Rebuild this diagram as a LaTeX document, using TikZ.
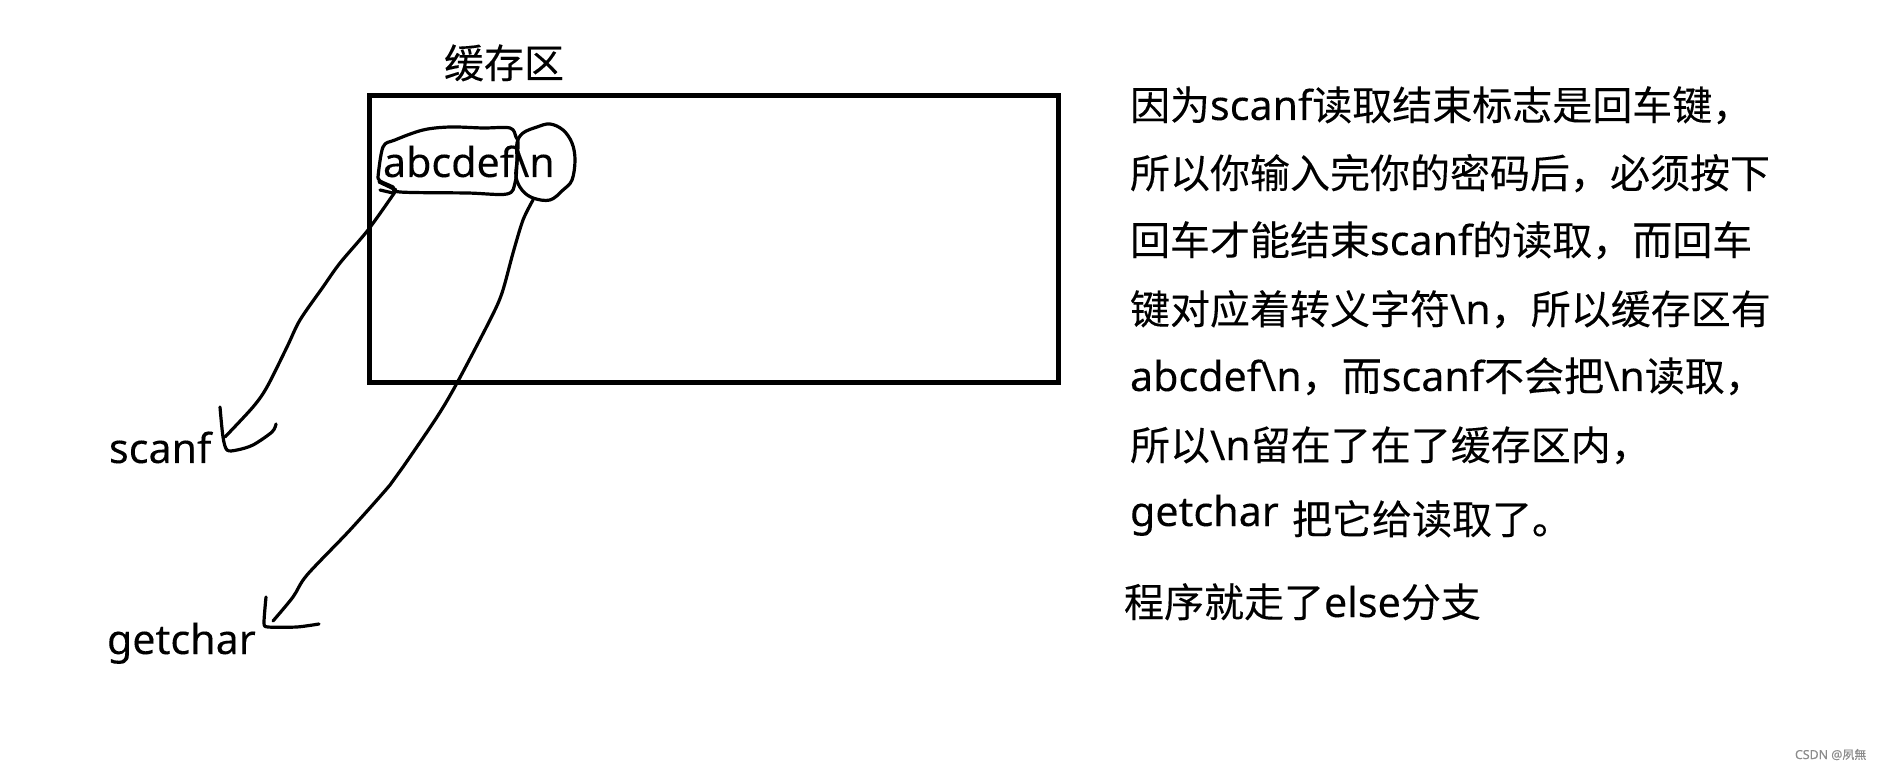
\documentclass[tikz,border=0pt]{standalone}
\usepackage{fontspec}
\setmainfont[Scale=1.03,FakeBold=0.12]{Noto Sans}
\newfontfamily\cjk[FakeBold=0.12]{Noto Sans CJK SC}
\newcommand{\zh}[1]{{\cjk #1}}
\tikzset{
  ink/.style={line width=1.6pt,line cap=round,line join=round,black},
  txt/.style={anchor=base west,inner sep=0pt,outer sep=0pt,font=\fontsize{20pt}{24pt}\selectfont},
  wmark/.style={anchor=base west,inner sep=0pt,outer sep=0pt,font=\fontsize{6pt}{7pt}\selectfont,text=black!45},
}
\begin{document}
\begin{tikzpicture}[x=0.5pt,y=-0.5pt]
\useasboundingbox (0,0) rectangle (1877,769);
\fill[white] (0,0) rectangle (1877,769);
\node[draw,line width=2.5pt,inner sep=0pt,outer sep=0pt,minimum width=344.5pt,minimum height=143.5pt,anchor=north west] (buffer) at (369.5,95.5) {};
\node[txt] (buftitle) at (444,78) {\zh{缓存区}};
\node[txt] (content) at (383,177) {abcdef\textbackslash n};
\node[txt] (scanf) at (109,463) {scanf};
\node[txt] (getchar) at (107,654) {getchar};

\node[txt] (l1) at (1130,120) {\zh{因为}scanf\zh{读取结束标志是回车键，}};
\node[txt] (l2) at (1130,188) {\zh{所以你输入完你的密码后，必须按下}};
\node[txt] (l3) at (1130,255) {\zh{回车才能结束}scanf\zh{的读取，而回车}};
\node[txt] (l4) at (1130,324) {\zh{键对应着转义字符}\textbackslash n\zh{，所以缓存区有}};
\node[txt] (l5) at (1130,391) {abcdef\textbackslash n\zh{，而}scanf\zh{不会把}\textbackslash n\zh{读取，}};
\node[txt] (l6) at (1130,460) {\zh{所以}\textbackslash n\zh{留在了在了缓存区内，}};
\node[txt] (l7a) at (1130,526) {getchar};
\node[txt] (l7b) at (1292,534) {\zh{把它给读取了。}};
\node[txt] (l8) at (1124,617) {\zh{程序就走了}else\zh{分支}};
\node[wmark] (wm) at (1795,759) {CSDN @\zh{夙無}};

% hand-drawn loops
\draw[ink] plot[smooth,tension=.55] coordinates {(378,177) (383,147) (395,140) (423,130) (450,127) (483,128) (510,128) (516,137) (518,143) (517,163) (515,183) (507,194) (467,193) (400,192) (393,187) (380,181) (378,177)};
\draw[ink] plot[smooth cycle,tension=.6] coordinates {(517,143) (523,133) (537,127) (550,124) (563,130) (572,143) (575,160) (572,180) (563,190) (550,200) (533,198) (522,190) (516,177) (517,160)};

% hand-drawn arrows
\coordinate (a1s) at (395,192);
\coordinate (a1e) at (225,437);
\coordinate (a2s) at (533,200);
\coordinate (a2e) at (273,621);
\draw[ink] plot[smooth,tension=.5] coordinates {(a1s) (368,230) (340,263) (323,287) (300,320) (287,347) (267,387) (253,407) (a1e)};
\draw[ink] plot[smooth,tension=.5] coordinates {(220,407) (223,437) (227,450) (237,450) (253,445) (272,432) (276,424)};
\draw[ink] (380,190) -- (393,193) (379,182) -- (396,190);
\draw[ink] plot[smooth,tension=.5] coordinates {(a2s) (523,220) (513,253) (502,293) (490,320) (457,383) (437,417) (403,467) (390,485) (350,530) (307,575) (293,597) (a2e)};
\draw[ink] plot[smooth,tension=.4] coordinates {(266,597) (264,623) (268,627) (297,627) (319,624)};
\end{tikzpicture}
\end{document}
